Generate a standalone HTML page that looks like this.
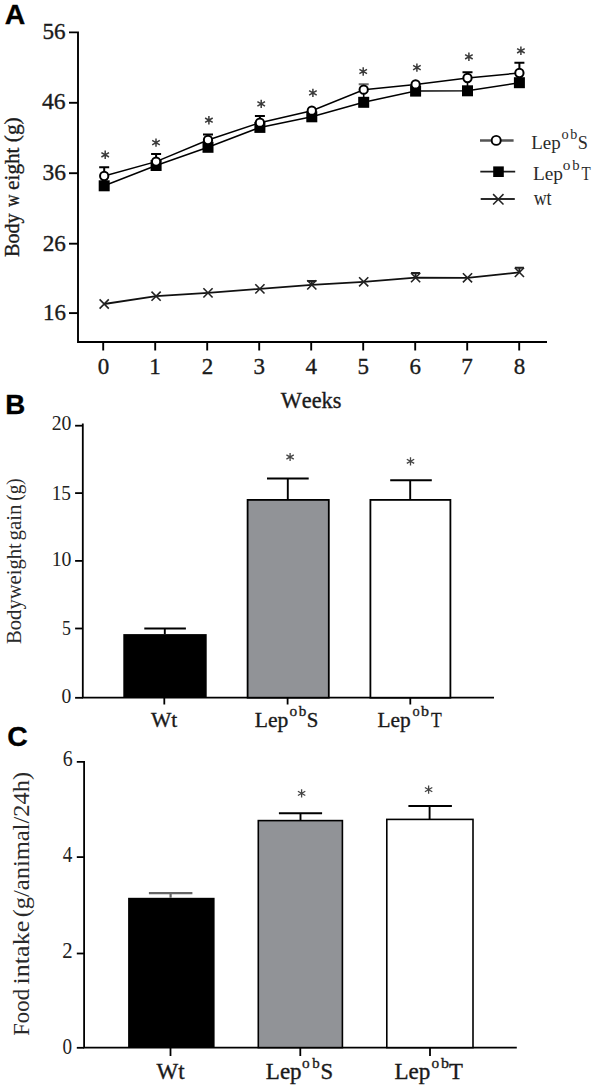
<!DOCTYPE html><html><head><meta charset="utf-8"><style>html,body{margin:0;padding:0;background:#fff;overflow:hidden}svg{display:block}text{font-kerning:none;stroke:#1a1a1a;stroke-width:0.35px;paint-order:stroke}</style></head><body>
<svg width="594" height="1087" viewBox="0 0 594 1087">
<rect width="594" height="1087" fill="#fff"/>
<text x="4.74" y="23.90" font-family="Liberation Sans, sans-serif" font-weight="bold" font-size="28.5" fill="#000" textLength="20.51" lengthAdjust="spacingAndGlyphs" >A</text>
<text x="5.25" y="413.60" font-family="Liberation Sans, sans-serif" font-weight="bold" font-size="27.5" fill="#000" textLength="20.01" lengthAdjust="spacingAndGlyphs" >B</text>
<text x="7.33" y="745.80" font-family="Liberation Sans, sans-serif" font-weight="bold" font-size="28" fill="#000" textLength="20.54" lengthAdjust="spacingAndGlyphs" >C</text>
<g stroke="#000" stroke-width="1.9" fill="none">
<path d="M69,32.4H78.0V342.0H547"/>
<path d="M69,102.8H78.0"/>
<path d="M69,173.2H78.0"/>
<path d="M69,243.7H78.0"/>
<path d="M69,313.1H78.0"/>
<path d="M103.2,342.0V350.5"/>
<path d="M155.2,342.0V350.5"/>
<path d="M207.2,342.0V350.5"/>
<path d="M259.2,342.0V350.5"/>
<path d="M311.2,342.0V350.5"/>
<path d="M363.2,342.0V350.5"/>
<path d="M415.2,342.0V350.5"/>
<path d="M467.2,342.0V350.5"/>
<path d="M519.2,342.0V350.5"/>
</g>
<text x="42.46" y="39.00" font-family="Liberation Serif, serif" font-size="23" fill="#1a1a1a" textLength="23.13" lengthAdjust="spacingAndGlyphs" >56</text>
<text x="41.94" y="109.40" font-family="Liberation Serif, serif" font-size="23" fill="#1a1a1a" textLength="23.67" lengthAdjust="spacingAndGlyphs" >46</text>
<text x="42.47" y="180.20" font-family="Liberation Serif, serif" font-size="23" fill="#1a1a1a" textLength="23.53" lengthAdjust="spacingAndGlyphs" >36</text>
<text x="42.78" y="250.60" font-family="Liberation Serif, serif" font-size="23" fill="#1a1a1a" textLength="23.21" lengthAdjust="spacingAndGlyphs" >26</text>
<text x="42.98" y="320.30" font-family="Liberation Serif, serif" font-size="23" fill="#1a1a1a" textLength="23.01" lengthAdjust="spacingAndGlyphs" >16</text>
<text x="97.65" y="373.90" font-family="Liberation Serif, serif" font-size="23" fill="#1a1a1a" textLength="11.50" lengthAdjust="spacingAndGlyphs" >0</text>
<text x="149.33" y="373.90" font-family="Liberation Serif, serif" font-size="23" fill="#1a1a1a" textLength="11.50" lengthAdjust="spacingAndGlyphs" >1</text>
<text x="201.78" y="373.90" font-family="Liberation Serif, serif" font-size="23" fill="#1a1a1a" textLength="11.50" lengthAdjust="spacingAndGlyphs" >2</text>
<text x="253.55" y="373.90" font-family="Liberation Serif, serif" font-size="23" fill="#1a1a1a" textLength="11.50" lengthAdjust="spacingAndGlyphs" >3</text>
<text x="305.61" y="373.90" font-family="Liberation Serif, serif" font-size="23" fill="#1a1a1a" textLength="11.50" lengthAdjust="spacingAndGlyphs" >4</text>
<text x="357.43" y="373.90" font-family="Liberation Serif, serif" font-size="23" fill="#1a1a1a" textLength="11.50" lengthAdjust="spacingAndGlyphs" >5</text>
<text x="409.50" y="373.90" font-family="Liberation Serif, serif" font-size="23" fill="#1a1a1a" textLength="11.50" lengthAdjust="spacingAndGlyphs" >6</text>
<text x="461.22" y="373.90" font-family="Liberation Serif, serif" font-size="23" fill="#1a1a1a" textLength="11.50" lengthAdjust="spacingAndGlyphs" >7</text>
<text x="513.65" y="373.90" font-family="Liberation Serif, serif" font-size="23" fill="#1a1a1a" textLength="11.50" lengthAdjust="spacingAndGlyphs" >8</text>
<text x="280.68" y="408.20" font-family="Liberation Serif, serif" font-size="22.8" fill="#1a1a1a" textLength="60.73" lengthAdjust="spacingAndGlyphs" >Weeks</text>
<text transform="rotate(-90)" x="-256.98" y="19.20" font-family="Liberation Serif, serif" font-size="20.8" fill="#1a1a1a" textLength="43.56" lengthAdjust="spacingAndGlyphs" >Body</text>
<text transform="rotate(-90)" x="-206.82" y="19.20" font-family="Liberation Serif, serif" font-size="20.8" fill="#1a1a1a" textLength="12.19" lengthAdjust="spacingAndGlyphs" >w</text>
<text transform="rotate(-90)" x="-189.93" y="19.20" font-family="Liberation Serif, serif" font-size="20.8" fill="#1a1a1a" textLength="42.45" lengthAdjust="spacingAndGlyphs" >eight</text>
<text transform="rotate(-90)" x="-142.24" y="19.20" font-family="Liberation Serif, serif" font-size="20.8" fill="#1a1a1a" textLength="24.98" lengthAdjust="spacingAndGlyphs" >(g)</text>
<polyline points="104.2,304.0 156.1,296.2 208.0,292.9 259.9,288.9 311.8,284.9 363.7,281.8 415.6,277.6 467.5,277.8 519.4,272.4" fill="none" stroke="#111" stroke-width="1.8"/>
<path d="M311.8,284.9V281.1M307.3,281.1H316.3" stroke="#222" stroke-width="2" fill="none"/>
<path d="M415.6,277.6V273.1M411.1,273.1H420.1" stroke="#222" stroke-width="2" fill="none"/>
<path d="M519.4,272.4V267.7M514.9,267.7H523.9" stroke="#222" stroke-width="2" fill="none"/>
<path d="M99.6,299.4L108.8,308.6M108.8,299.4L99.6,308.6" stroke="#222" stroke-width="1.6" fill="none"/>
<path d="M151.5,291.6L160.7,300.8M160.7,291.6L151.5,300.8" stroke="#222" stroke-width="1.6" fill="none"/>
<path d="M203.4,288.3L212.6,297.5M212.6,288.3L203.4,297.5" stroke="#222" stroke-width="1.6" fill="none"/>
<path d="M255.3,284.3L264.5,293.5M264.5,284.3L255.3,293.5" stroke="#222" stroke-width="1.6" fill="none"/>
<path d="M307.2,280.3L316.4,289.5M316.4,280.3L307.2,289.5" stroke="#222" stroke-width="1.6" fill="none"/>
<path d="M359.1,277.2L368.3,286.4M368.3,277.2L359.1,286.4" stroke="#222" stroke-width="1.6" fill="none"/>
<path d="M411.0,273.0L420.2,282.2M420.2,273.0L411.0,282.2" stroke="#222" stroke-width="1.6" fill="none"/>
<path d="M462.9,273.2L472.1,282.4M472.1,273.2L462.9,282.4" stroke="#222" stroke-width="1.6" fill="none"/>
<path d="M514.8,267.8L524.0,277.0M524.0,267.8L514.8,277.0" stroke="#222" stroke-width="1.6" fill="none"/>
<polyline points="104.2,185.8 156.1,165.5 208.0,147.3 259.9,127.4 311.8,116.8 363.7,102.3 415.6,91.1 467.5,90.8 519.4,82.7" fill="none" stroke="#000" stroke-width="1.5"/>
<rect x="98.7" y="180.3" width="11" height="11" fill="#000"/>
<rect x="150.6" y="160.0" width="11" height="11" fill="#000"/>
<rect x="202.5" y="141.8" width="11" height="11" fill="#000"/>
<rect x="254.4" y="121.9" width="11" height="11" fill="#000"/>
<rect x="306.3" y="111.3" width="11" height="11" fill="#000"/>
<rect x="358.2" y="96.8" width="11" height="11" fill="#000"/>
<rect x="410.1" y="85.6" width="11" height="11" fill="#000"/>
<rect x="462.0" y="85.3" width="11" height="11" fill="#000"/>
<rect x="513.9" y="77.2" width="11" height="11" fill="#000"/>
<polyline points="104.2,176.0 156.1,161.6 208.0,140.0 259.9,122.7 311.8,110.7 363.7,89.7 415.6,84.4 467.5,78.0 519.4,73.0" fill="none" stroke="#000" stroke-width="1.5"/>
<path d="M104.2,176.0V167.3M99.2,167.3H109.2" stroke="#000" stroke-width="2" fill="none"/>
<path d="M156.1,161.6V154.1M151.1,154.1H161.1" stroke="#000" stroke-width="2" fill="none"/>
<path d="M208.0,140.0V134.5M203.0,134.5H213.0" stroke="#000" stroke-width="2" fill="none"/>
<path d="M259.9,122.7V116.0M254.9,116.0H264.9" stroke="#000" stroke-width="2" fill="none"/>
<path d="M363.7,89.7V84.3M358.7,84.3H368.7" stroke="#6a6a6a" stroke-width="2" fill="none"/>
<path d="M467.5,78.0V72.2M462.5,72.2H472.5" stroke="#000" stroke-width="2" fill="none"/>
<path d="M519.4,73.0V62.7M514.4,62.7H524.4" stroke="#000" stroke-width="2" fill="none"/>
<path d="M363.7,89.7V102.3" stroke="#000" stroke-width="1.6" fill="none"/>
<path d="M467.5,78.0V90.8" stroke="#000" stroke-width="1.6" fill="none"/>
<circle cx="104.2" cy="176.0" r="4.15" fill="#fff" stroke="#000" stroke-width="2.0"/>
<circle cx="156.1" cy="161.6" r="4.15" fill="#fff" stroke="#000" stroke-width="2.0"/>
<circle cx="208.0" cy="140.0" r="4.15" fill="#fff" stroke="#000" stroke-width="2.0"/>
<circle cx="259.9" cy="122.7" r="4.15" fill="#fff" stroke="#000" stroke-width="2.0"/>
<circle cx="311.8" cy="110.7" r="4.15" fill="#fff" stroke="#000" stroke-width="2.0"/>
<circle cx="363.7" cy="89.7" r="4.15" fill="#fff" stroke="#000" stroke-width="2.0"/>
<circle cx="415.6" cy="84.4" r="4.15" fill="#fff" stroke="#000" stroke-width="2.0"/>
<circle cx="467.5" cy="78.0" r="4.15" fill="#fff" stroke="#000" stroke-width="2.0"/>
<circle cx="519.4" cy="73.0" r="4.15" fill="#fff" stroke="#000" stroke-width="2.0"/>
<path d="M105.2,150.6V159.0M101.4,152.6L109.0,157.0M109.0,152.6L101.4,157.0" stroke="#3a3a3a" stroke-width="1.5" fill="none"/>
<path d="M156.0,138.4V146.8M152.2,140.4L159.8,144.8M159.8,140.4L152.2,144.8" stroke="#3a3a3a" stroke-width="1.5" fill="none"/>
<path d="M208.9,116.0V124.4M205.1,118.0L212.7,122.4M212.7,118.0L205.1,122.4" stroke="#3a3a3a" stroke-width="1.5" fill="none"/>
<path d="M261.2,99.7V108.1M257.4,101.7L265.0,106.1M265.0,101.7L257.4,106.1" stroke="#3a3a3a" stroke-width="1.5" fill="none"/>
<path d="M312.9,88.7V97.1M309.1,90.7L316.7,95.1M316.7,90.7L309.1,95.1" stroke="#3a3a3a" stroke-width="1.5" fill="none"/>
<path d="M363.2,67.3V75.7M359.4,69.3L367.0,73.7M367.0,69.3L359.4,73.7" stroke="#3a3a3a" stroke-width="1.5" fill="none"/>
<path d="M416.9,63.4V71.8M413.1,65.4L420.7,69.8M420.7,65.4L413.1,69.8" stroke="#3a3a3a" stroke-width="1.5" fill="none"/>
<path d="M468.9,52.6V61.0M465.1,54.6L472.7,59.0M472.7,54.6L465.1,59.0" stroke="#3a3a3a" stroke-width="1.5" fill="none"/>
<path d="M520.9,46.6V55.0M517.1,48.6L524.7,53.0M524.7,48.6L517.1,53.0" stroke="#3a3a3a" stroke-width="1.5" fill="none"/>
<path d="M480,140.5H513.6" stroke="#555" stroke-width="2.3" fill="none"/>
<path d="M480.3,171.6H515.2" stroke="#1a1a1a" stroke-width="1.8" fill="none"/>
<path d="M480.7,199.1H514.8" stroke="#2a2a2a" stroke-width="2" fill="none"/>
<circle cx="496.2" cy="140.4" r="4.5" fill="#fff" stroke="#000" stroke-width="1.9"/>
<rect x="493.2" y="166.4" width="10.6" height="10.6" fill="#000"/>
<path d="M493.1,194.1L503.5,204.5M503.5,194.1L493.1,204.5" stroke="#222" stroke-width="1.5" fill="none"/>
<text x="531.25" y="149.00" font-family="Liberation Serif, serif" font-size="19.5" fill="#2a2a2a" textLength="29.49" lengthAdjust="spacingAndGlyphs" style="stroke:none">Lep</text><text x="561.55" y="139.45" font-family="Liberation Serif, serif" font-size="14.5" fill="#2a2a2a" textLength="7.20" lengthAdjust="spacingAndGlyphs" style="stroke:none">o</text><text x="570.30" y="139.45" font-family="Liberation Serif, serif" font-size="14.5" fill="#2a2a2a" textLength="7.04" lengthAdjust="spacingAndGlyphs" style="stroke:none">b</text><text x="577.78" y="149.00" font-family="Liberation Serif, serif" font-size="19.5" fill="#2a2a2a" textLength="10.15" lengthAdjust="spacingAndGlyphs" style="stroke:none">S</text>
<text x="532.94" y="179.90" font-family="Liberation Serif, serif" font-size="19.3" fill="#2a2a2a" textLength="30.11" lengthAdjust="spacingAndGlyphs" style="stroke:none">Lep</text><text x="562.82" y="170.30" font-family="Liberation Serif, serif" font-size="14.5" fill="#2a2a2a" textLength="7.67" lengthAdjust="spacingAndGlyphs" style="stroke:none">o</text><text x="572.30" y="170.30" font-family="Liberation Serif, serif" font-size="14.5" fill="#2a2a2a" textLength="7.36" lengthAdjust="spacingAndGlyphs" style="stroke:none">b</text><text x="581.43" y="179.90" font-family="Liberation Serif, serif" font-size="19.3" fill="#2a2a2a" textLength="9.22" lengthAdjust="spacingAndGlyphs" style="stroke:none">T</text>
<text x="533.68" y="205.10" font-family="Liberation Serif, serif" font-size="20" fill="#2a2a2a" textLength="17.92" lengthAdjust="spacingAndGlyphs" style="stroke:none">wt</text>
<g stroke="#000" stroke-width="1.8" fill="none">
<path d="M82.8,423.4V697.7H494"/>
<path d="M75.1,425.7H82.8"/>
<path d="M75.1,493.1H82.8"/>
<path d="M75.1,560.9H82.8"/>
<path d="M75.1,628.5H82.8"/>
<path d="M75.1,697.8H82.8"/>
<path d="M164.3,697.7V704.5"/>
<path d="M287.6,697.7V704.5"/>
<path d="M410.3,697.7V704.5"/>
</g>
<rect x="123.3" y="634.1" width="83.4" height="63.6" fill="#000"/>
<rect x="247.6" y="499.9" width="81.2" height="197.8" fill="#919397" stroke="#000" stroke-width="1.8"/>
<rect x="370.4" y="499.9" width="80" height="197.8" fill="#fff" stroke="#000" stroke-width="1.8"/>
<g stroke="#000" stroke-width="1.9" fill="none">
<path d="M164.8,634.1V628.5M144.3,628.5H185.9"/>
<path d="M287.8,499.8V478.5M267,478.5H308.7"/>
<path d="M410.2,499.8V480.3M390.2,480.3H431.8"/>
</g>
<path d="M290.1,452.9V461.1M286.4,454.9L293.8,459.1M293.8,454.9L286.4,459.1" stroke="#454545" stroke-width="1.3" fill="none"/>
<path d="M410.5,457.2V465.4M406.8,459.2L414.2,463.4M414.2,459.2L406.8,463.4" stroke="#454545" stroke-width="1.3" fill="none"/>
<text x="51.73" y="430.30" font-family="Liberation Serif, serif" font-size="20.3" fill="#222" textLength="19.72" lengthAdjust="spacingAndGlyphs" style="stroke:none">20</text>
<text x="51.70" y="499.90" font-family="Liberation Serif, serif" font-size="20.3" fill="#222" textLength="19.36" lengthAdjust="spacingAndGlyphs" style="stroke:none">15</text>
<text x="51.66" y="566.40" font-family="Liberation Serif, serif" font-size="20.3" fill="#222" textLength="19.79" lengthAdjust="spacingAndGlyphs" style="stroke:none">10</text>
<text x="62.06" y="635.20" font-family="Liberation Serif, serif" font-size="20.3" fill="#222" textLength="8.94" lengthAdjust="spacingAndGlyphs" style="stroke:none">5</text>
<text x="61.55" y="703.30" font-family="Liberation Serif, serif" font-size="20.3" fill="#222" textLength="9.79" lengthAdjust="spacingAndGlyphs" style="stroke:none">0</text>
<text x="150.98" y="727.40" font-family="Liberation Serif, serif" font-size="21.5" fill="#1a1a1a" textLength="26.35" lengthAdjust="spacingAndGlyphs" >Wt</text>
<text x="254.78" y="727.10" font-family="Liberation Serif, serif" font-size="21.5" fill="#1a1a1a" textLength="33.57" lengthAdjust="spacingAndGlyphs" >Lep</text><text x="289.42" y="715.50" font-family="Liberation Serif, serif" font-size="15" fill="#1a1a1a" textLength="7.67" lengthAdjust="spacingAndGlyphs" >o</text><text x="298.80" y="715.50" font-family="Liberation Serif, serif" font-size="15" fill="#1a1a1a" textLength="7.58" lengthAdjust="spacingAndGlyphs" >b</text><text x="306.81" y="727.10" font-family="Liberation Serif, serif" font-size="21.5" fill="#1a1a1a" textLength="11.59" lengthAdjust="spacingAndGlyphs" >S</text>
<text x="377.48" y="727.30" font-family="Liberation Serif, serif" font-size="21.5" fill="#1a1a1a" textLength="33.25" lengthAdjust="spacingAndGlyphs" >Lep</text><text x="412.45" y="716.00" font-family="Liberation Serif, serif" font-size="15" fill="#1a1a1a" textLength="7.20" lengthAdjust="spacingAndGlyphs" >o</text><text x="421.00" y="716.00" font-family="Liberation Serif, serif" font-size="15" fill="#1a1a1a" textLength="8.01" lengthAdjust="spacingAndGlyphs" >b</text><text x="430.88" y="727.30" font-family="Liberation Serif, serif" font-size="21.5" fill="#1a1a1a" textLength="10.71" lengthAdjust="spacingAndGlyphs" >T</text>
<text transform="rotate(-90)" x="-643.99" y="20.50" font-family="Liberation Serif, serif" font-size="20.8" fill="#2a2a2a" textLength="100.81" lengthAdjust="spacingAndGlyphs" style="stroke:none">Bodyweight</text>
<text transform="rotate(-90)" x="-540.60" y="20.50" font-family="Liberation Serif, serif" font-size="20.8" fill="#2a2a2a" textLength="36.22" lengthAdjust="spacingAndGlyphs" style="stroke:none">gain</text>
<text transform="rotate(-90)" x="-500.74" y="20.50" font-family="Liberation Serif, serif" font-size="20.8" fill="#2a2a2a" textLength="22.39" lengthAdjust="spacingAndGlyphs" style="stroke:none">(g)</text>
<g stroke="#000" stroke-width="1.8" fill="none">
<path d="M76.8,761.9H84.1V1047.6H516.8"/>
<path d="M76.8,857.1H84.1"/>
<path d="M76.8,953.5H84.1"/>
<path d="M76.8,1047.8H84.1"/>
<path d="M170.5,1047.6V1056"/>
<path d="M300.3,1047.6V1056"/>
<path d="M430.0,1047.6V1056"/>
</g>
<rect x="128.1" y="897.8" width="86.5" height="149.8" fill="#000"/>
<rect x="258.3" y="820.6" width="84.1" height="227.0" fill="#919397" stroke="#000" stroke-width="1.6"/>
<rect x="386.8" y="819.4" width="86.2" height="228.2" fill="#fff" stroke="#000" stroke-width="1.6"/>
<path d="M170.6,897.8V893.1M148.9,893.1H192.4" stroke="#666" stroke-width="2.2" fill="none"/>
<g stroke="#000" stroke-width="1.9" fill="none">
<path d="M300.5,820.4V813.3M278.9,813.3H322.1"/>
<path d="M429.6,819.1V806M408.4,806H451.9"/>
</g>
<path d="M301.6,789.3V797.5M297.9,791.3L305.3,795.5M305.3,791.3L297.9,795.5" stroke="#454545" stroke-width="1.3" fill="none"/>
<path d="M428.6,785.5V793.7M424.9,787.5L432.3,791.7M432.3,787.5L424.9,791.7" stroke="#454545" stroke-width="1.3" fill="none"/>
<text x="62.65" y="766.40" font-family="Liberation Serif, serif" font-size="22.5" fill="#222" textLength="9.95" lengthAdjust="spacingAndGlyphs" style="stroke:none">6</text>
<text x="62.63" y="861.90" font-family="Liberation Serif, serif" font-size="22.5" fill="#222" textLength="9.57" lengthAdjust="spacingAndGlyphs" style="stroke:none">4</text>
<text x="62.19" y="958.40" font-family="Liberation Serif, serif" font-size="22.5" fill="#222" textLength="10.35" lengthAdjust="spacingAndGlyphs" style="stroke:none">2</text>
<text x="62.57" y="1054.20" font-family="Liberation Serif, serif" font-size="22.5" fill="#222" textLength="9.56" lengthAdjust="spacingAndGlyphs" style="stroke:none">0</text>
<text x="156.48" y="1078.80" font-family="Liberation Serif, serif" font-size="22.5" fill="#1a1a1a" textLength="28.06" lengthAdjust="spacingAndGlyphs" >Wt</text>
<text x="265.84" y="1078.70" font-family="Liberation Serif, serif" font-size="22.5" fill="#1a1a1a" textLength="35.76" lengthAdjust="spacingAndGlyphs" >Lep</text><text x="301.92" y="1067.85" font-family="Liberation Serif, serif" font-size="15.5" fill="#1a1a1a" textLength="7.67" lengthAdjust="spacingAndGlyphs" >o</text><text x="312.20" y="1067.85" font-family="Liberation Serif, serif" font-size="15.5" fill="#1a1a1a" textLength="7.47" lengthAdjust="spacingAndGlyphs" >b</text><text x="320.48" y="1078.70" font-family="Liberation Serif, serif" font-size="22.5" fill="#1a1a1a" textLength="12.63" lengthAdjust="spacingAndGlyphs" >S</text>
<text x="394.44" y="1078.70" font-family="Liberation Serif, serif" font-size="22.5" fill="#1a1a1a" textLength="35.87" lengthAdjust="spacingAndGlyphs" >Lep</text><text x="431.52" y="1068.10" font-family="Liberation Serif, serif" font-size="15.5" fill="#1a1a1a" textLength="7.67" lengthAdjust="spacingAndGlyphs" >o</text><text x="440.90" y="1068.10" font-family="Liberation Serif, serif" font-size="15.5" fill="#1a1a1a" textLength="8.01" lengthAdjust="spacingAndGlyphs" >b</text><text x="448.99" y="1078.70" font-family="Liberation Serif, serif" font-size="22.5" fill="#1a1a1a" textLength="13.89" lengthAdjust="spacingAndGlyphs" >T</text>
<text transform="rotate(-90)" x="-1035.86" y="29.20" font-family="Liberation Serif, serif" font-size="23" fill="#2a2a2a" textLength="46.94" lengthAdjust="spacingAndGlyphs" style="stroke:none">Food</text>
<text transform="rotate(-90)" x="-984.45" y="29.20" font-family="Liberation Serif, serif" font-size="23" fill="#2a2a2a" textLength="63.75" lengthAdjust="spacingAndGlyphs" style="stroke:none">intake</text>
<text transform="rotate(-90)" x="-917.38" y="29.20" font-family="Liberation Serif, serif" font-size="23" fill="#2a2a2a" textLength="145.45" lengthAdjust="spacingAndGlyphs" style="stroke:none">(g/animal/24h)</text>
</svg></body></html>
